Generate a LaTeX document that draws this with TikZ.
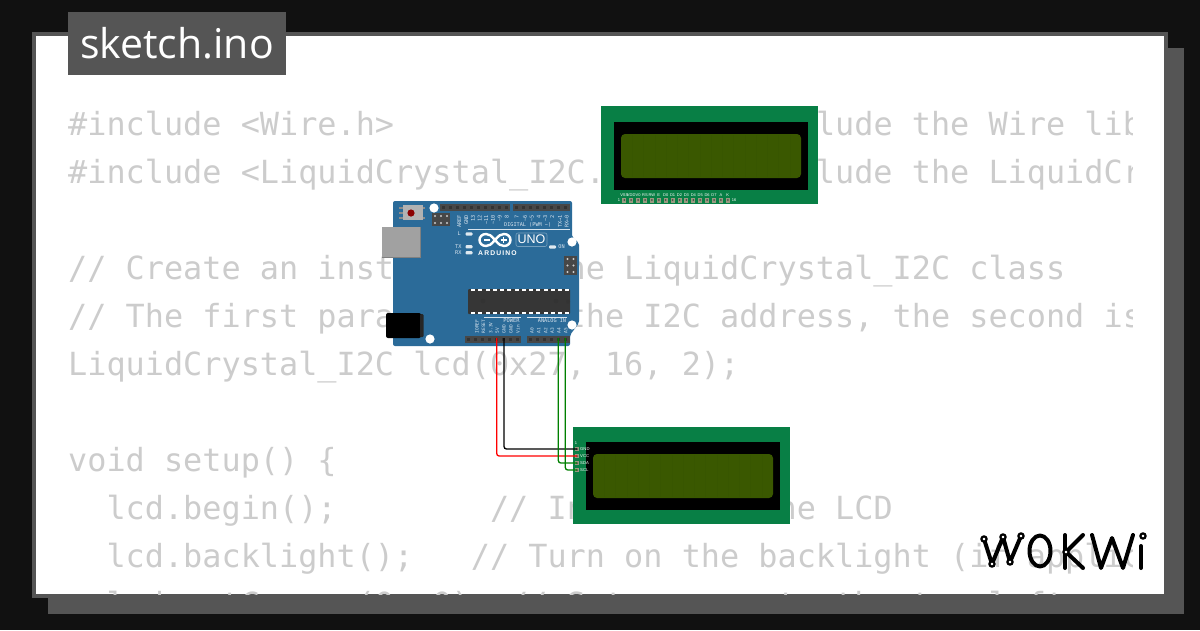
\documentclass[tikz,border=0pt]{standalone}
\usepackage{fontspec}
\setmainfont{Open Sans}
\newfontfamily\codefont{DejaVu Sans Mono}
\newfontfamily\tinyfont{Liberation Sans}
\usetikzlibrary{calc}
\definecolor{bgdark}{HTML}{111111}
\definecolor{frame}{HTML}{555555}
\definecolor{codegrey}{HTML}{CCCCCC}
\definecolor{unoblue}{HTML}{2B6B99}
\definecolor{lcdgreen}{HTML}{087F45}
\definecolor{lcdscreen}{HTML}{3A5800}
\definecolor{lcdline}{HTML}{385600}
\definecolor{hdr}{HTML}{474747}
\definecolor{hdrpin}{HTML}{333333}
\definecolor{ic}{HTML}{363636}
\definecolor{pinbrass}{HTML}{9A9A80}
\definecolor{wiregreen}{HTML}{008000}
\definecolor{silkcol}{HTML}{D8E4EE}
\tikzset{
  codeline/.style={anchor=base west,inner sep=0pt,text=codegrey,font=\codefont\fontsize{31.85}{32}\selectfont},
  silk/.style={inner sep=0pt,text=silkcol,font=\codefont\fontsize{5.2}{5.2}\selectfont},
  silktop/.style={silk,rotate=90,anchor=east},
  silkbot/.style={silk,rotate=90,anchor=west,font=\codefont\fontsize{4.5}{4.5}\selectfont},
  lcdsilk/.style={inner sep=0pt,text=white,font=\tinyfont\fontsize{4}{4}\selectfont},
  hole/.style={fill=white,draw=none},
  led/.style={fill=white!85!unoblue,rounded corners=1pt},
  wire/.style={line width=1.3pt,rounded corners=2.5pt},
  logo/.style={black,line width=4pt,line cap=round,line join=round},
  logodot/.style={black,line width=2.2pt,fill=white},
}
\begin{document}
\begin{tikzpicture}[x=1pt,y=-1pt]
\useasboundingbox (0,0) rectangle (1200,630);
\fill[bgdark] (0,0) rectangle (1200,630);
\fill[frame] (48,48) rectangle (1184,614);
\fill[frame] (32,32) rectangle (1168,598);
\fill[white] (36,36) rectangle (1164,594);
% code
\begin{scope}
\clip (36,36) rectangle (1132,594);
\node[codeline] (c1) at (68,135) {\#include <Wire.h>~~~~~~~~~~~~~~~~// Include the Wire lib};
\node[codeline] (c2) at (68,183) {\#include <LiquidCrystal\_I2C.h>~~~// Include the LiquidCr};
\node[codeline] (c4) at (68,279) {// Create an instance of the LiquidCrystal\_I2C class};
\node[codeline] (c5) at (68,327) {// The first parameter is the I2C address, the second is};
\node[codeline] (c6) at (68,375) {LiquidCrystal\_I2C lcd(0x27, 16, 2);};
\node[codeline] (c8) at (68,471) {void setup() \{};
\node[codeline] (c9) at (68,519) {~~lcd.begin();~~~~~~~~// Initialize the LCD};
\node[codeline] (c10) at (68,567) {~~lcd.backlight();~~~// Turn on the backlight (if applicab};
\node[codeline] (c11) at (68,615) {~~lcd.setCursor(0, 0); // Set cursor to the top-left};
\end{scope}
% title
\fill[frame] (68,12) rectangle (286,75);
\node[inner sep=0pt,text=white,font=\fontsize{41}{41}\selectfont,anchor=base] (title) at (177,58) {sketch.ino};
% LCD top
\begin{scope}[shift={(601,106)}]
\fill[lcdgreen] (0,0) rectangle (217,97.5);
\fill[black] (13,16) rectangle (207,84);
\fill[lcdscreen,rounded corners=4pt] (20,28) rectangle (200,72);
\foreach \i in {1,...,15} \draw[lcdline,line width=.4pt] ({20+\i*11.25},29) -- ({20+\i*11.25},71);
\foreach \i [count=\n from 0] in {VSS,VDD,V0,RS,RW,E,D0,D1,D2,D3,D4,D5,D6,D7,A,K}
  {\fill[pinbrass] ({23.3+\n*6.9-2},91.5) rectangle ({23.3+\n*6.9+2},96.5);
   \fill[black!70] ({23.3+\n*6.9},94) circle (1pt);
   \node[lcdsilk] (t\n) at ({23.3+\n*6.9},89) {\i};}
\node[lcdsilk] (tone) at (18,94) {1};
\node[lcdsilk] (tsixteen) at (133,94) {16};
\end{scope}
% Arduino
\fill[unoblue,rounded corners=2pt] (393,201) -- (572,201) -- (572,237) -- (579,243) -- (579,323) -- (570,335) -- (570,346) -- (393,346) -- cycle;
\foreach \x/\y in {434/208,572/242,572/325,430/339} \fill[hole] (\x,\y) circle (4.6);
% headers
\fill[hdr] (440,204) rectangle (510,211);
\fill[hdr] (513,204) rectangle (570,211);
\fill[hdr] (465,336) rectangle (521,343);
\fill[hdr] (527,336) rectangle (570,343);
\foreach \i in {0,...,9} \fill[hdrpin] ({443.5+\i*7-1.3},206.2) rectangle ({443.5+\i*7+1.3},208.8);
\foreach \i in {0,...,7} \fill[hdrpin] ({516.5+\i*7-1.3},206.2) rectangle ({516.5+\i*7+1.3},208.8);
\foreach \i in {0,...,7} \fill[hdrpin] ({468.5+\i*7-1.3},338.2) rectangle ({468.5+\i*7+1.3},340.8);
\foreach \i in {0,...,5} \fill[hdrpin] ({530.5+\i*7-1.3},338.2) rectangle ({530.5+\i*7+1.3},340.8);
% reset button
\fill[black!45] (399,207) rectangle (404,209);\fill[black!45] (399,212) rectangle (404,214);\fill[black!45] (399,217) rectangle (404,219);
\fill[black!45] (419,207) rectangle (425,209);\fill[black!45] (419,217) rectangle (425,219);
\fill[black!30] (403,205) rectangle (423,220);
\fill[red!55!black] (411,213) circle (3.6);
% small headers
\fill[hdr] (432,213) rectangle (450,226);
\foreach \x in {435,441,447} \foreach \y in {216,223} \fill[black!20] (\x,\y) circle (1.1);
\fill[hdr] (564,256) rectangle (577,275);
\foreach \x in {567.5,573.5} \foreach \y in {259,265.5,272} \fill[black!20] (\x,\y) circle (1.1);
% USB, jack
\fill[black!50] (382,227) rectangle (421,258);
\fill[black!37] (382,227) rectangle (420,257);
\fill[black,rounded corners=2pt] (386,313) rectangle (421,338);
\fill[black!85,rounded corners=1pt] (420,314) rectangle (423.5,337);
% IC
\fill[ic,rounded corners=1pt] (468,289) rectangle (570,314);
\foreach \i in {0,...,13} {\fill[white] ({471+\i*7.25},289.3) rectangle ({475+\i*7.25},290.6);
  \fill[white] ({471+\i*7.25},312.4) rectangle ({475+\i*7.25},313.7);}
\fill[black!80] (483,301) circle (2.4);\fill[black!80] (556,301) circle (2.4);\fill[black!80] (568,301.5) circle (2);
% top labels
\foreach \x/\t in {459.3/AREF,466.3/GND,473/13,479.7/12,486.3/{\textasciitilde11},493/{\textasciitilde10},499.7/{\textasciitilde9},506.7/8,516.7/7,525/{\textasciitilde6},531.7/{\textasciitilde5},538.7/4,545.3/{\textasciitilde3},552.3/2,560/{TX→1},566.7/{RX←0}}
  \node[silktop] at (\x,215) {\t};
\draw[silkcol,line width=.6pt] (468,229) -- (570,229);
\node[silk,anchor=west] (dig) at (504,225) {DIGITAL (PWM \textasciitilde)};
% logo
\draw[white,line width=2.4pt] (495,240) .. controls (491,235.5) and (489.5,234) .. (486,234)
  .. controls (482,234) and (479.5,236.8) .. (479.5,240) .. controls (479.5,243.2) and (482,246) .. (486,246)
  .. controls (489.5,246) and (491,244.5) .. (495,240) .. controls (499,235.5) and (500.5,234) .. (504,234)
  .. controls (508,234) and (510.5,236.8) .. (510.5,240) .. controls (510.5,243.2) and (508,246) .. (504,246)
  .. controls (500.5,246) and (499,244.5) .. (495,240);
\draw[white,line width=1.2pt] (484,240) -- (490,240);
\draw[white,line width=1.2pt] (500.5,240) -- (506.5,240) (503.5,237) -- (503.5,243);
\node[silk,text=white,font=\tinyfont\bfseries\fontsize{6.8}{7}\selectfont] (ardu) at (497.5,253.5) {A\,R\,D\,U\,I\,N\,O};
\draw[white!35!unoblue,line width=.6pt,rounded corners=2pt] (516,233) rectangle (547,246.5);
\node[silk,text=white,font=\tinyfont\fontsize{12.5}{13}\selectfont] (uno) at (531.5,239.5) {UNO};
% LEDs
\fill[led] (465.5,232.3) rectangle (472.5,235.7);
\fill[led] (465.5,245) rectangle (472.5,248.4);
\fill[led] (465.5,251) rectangle (472.5,254.4);
\fill[led] (549,245.3) rectangle (556,248.7);
\node[silk] (ll) at (459.3,234) {L};
\node[silk] (tx) at (458.3,246.7) {TX};
\node[silk] (rx) at (458.3,252.7) {RX};
\node[silk] (on) at (561.5,247) {ON};
% bottom labels
\foreach \x/\t in {477/IOREF,483.5/RESET,490.7/3.3V,497.3/5V,504/GND,511/GND,518/Vin,532/A0,538.7/A1,545.7/A2,552.3/A3,559/A4,565.7/A5}
  \node[silkbot] at (\x,333.5) {\t};
\node[silk,font=\codefont\fontsize{5.4}{5.4}\selectfont] (pow) at (511.5,320.7) {POWER};
\node[silk] (ana) at (552,320.7) {ANALOG IN};
\draw[silkcol,line width=.5pt] (484,317) -- (521,317) (527,317) -- (567,317);
% LCD bottom
\begin{scope}[shift={(573,427)}]
\fill[lcdgreen] (0,0) rectangle (217,97);
\fill[black] (13,15) rectangle (207,83);
\fill[lcdscreen,rounded corners=4pt] (20,27) rectangle (200,71);
\foreach \i in {1,...,15} \draw[lcdline,line width=.4pt] ({20+\i*11.25},28) -- ({20+\i*11.25},70);
\foreach \y/\t in {22/GND,29/VCC,36/SDA,43/SCL} {
  \fill[pinbrass] (2,\y-2) rectangle (6,\y+2);
  \fill[black!70] (4,\y) circle (1);
  \node[lcdsilk,anchor=west,font=\tinyfont\fontsize{4.2}{4.2}\selectfont] at (7,\y) {\t};}
\node[lcdsilk] (bone) at (3,16) {1};
\end{scope}
% wires
\coordinate (pin5v) at (496.7,338);
\coordinate (pingnd) at (504,338);
\coordinate (pina4) at (558.3,338);
\coordinate (pina5) at (565.3,338);
\coordinate (lcdgnd) at (577,449);
\coordinate (lcdvcc) at (577,456);
\coordinate (lcdsda) at (577,463);
\coordinate (lcdscl) at (577,470);
\draw[wire,black] (pingnd) |- (lcdgnd);
\draw[wire,red] (pin5v) |- (lcdvcc);
\draw[wire,wiregreen] (pina4) |- (lcdsda);
\draw[wire,wiregreen] (pina5) |- (lcdscl);
% Wokwi logo
\draw[logo] (984,539) -- (992,564) -- (1003,537) -- (1010,562) -- (1021,536);
\draw[logo] (1040,551) ellipse (10.5 and 15.5);
\draw[logo] (1065,535) -- (1065,568);
\draw[logo] (1066,552) -- (1083,535);
\draw[logo] (1066,552) -- (1083,568);
\draw[logo] (1092,535) -- (1101,568) -- (1112,538) -- (1123,568) -- (1133,535);
\draw[logo] (1141,546) -- (1141,568);
\foreach \x/\y in {984/539,992/564,1003/537,1010/562,1021/536,1066/552,1143/536}
  \draw[logodot] (\x,\y) circle (2.6);
\end{tikzpicture}
\end{document}
